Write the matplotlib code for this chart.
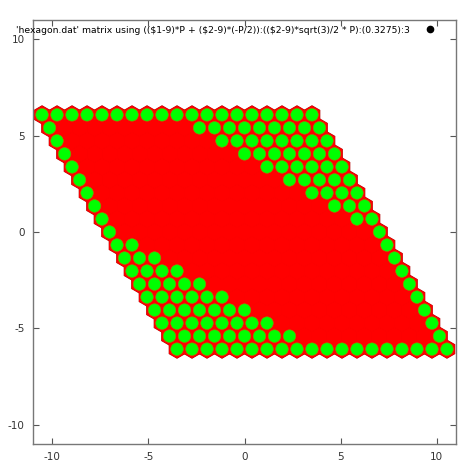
import numpy as np
import matplotlib
matplotlib.use("Agg")
import matplotlib.pyplot as plt
from matplotlib.patches import RegularPolygon, Circle
from matplotlib.lines import Line2D

# hexagon.dat : 19x19 matrix, row 0 first (bottom), 1 = green dot, 0 = red only
rows = [
    "1111111111111111111",
    "1111111110000000001",
    "1111111100000000001",
    "1111111000000000001",
    "1111110000000000001",
    "1111100000000000001",
    "1111000000000000001",
    "1110000000000000001",
    "1100000000000000001",
    "1000000000000000001",
    "1000000000000000011",
    "1000000000000000111",
    "1000000000000001111",
    "1000000000000011111",
    "1000000000000111111",
    "1000000000001111111",
    "1000000000011111111",
    "1000000000111111111",
    "1111111111111111111",
]
P = 0.78
radius = 0.3275
ticks = [-10, -5, 0, 5, 10]
label = "'hexagon.dat' matrix using ((\\$1-9)*P + (\\$2-9)*(-P/2)):((\\$2-9)*sqrt(3)/2 * P):(0.3275):3"

plt.rcParams['axes.unicode_minus'] = False

fig = plt.figure(figsize=(4.74, 4.74), dpi=100)
ax = fig.add_axes([33/474, 30/474, 423/474, 424/474])

hex_r = P / np.sqrt(3)
xs, ys, vals = [], [], []
for j, row in enumerate(rows):
    for i, ch in enumerate(row):
        xs.append((i - 9) * P + (j - 9) * (-P / 2))
        ys.append((j - 9) * np.sqrt(3) / 2 * P)
        vals.append(int(ch))

# outline pass then fill pass, so only the outer border shows
for x, y in zip(xs, ys):
    ax.add_patch(RegularPolygon((x, y), 6, radius=hex_r, facecolor='#ff0000',
                                edgecolor='#b00000', lw=1.2, zorder=1))
for x, y in zip(xs, ys):
    ax.add_patch(RegularPolygon((x, y), 6, radius=hex_r, facecolor='#ff0000',
                                edgecolor='#ff0000', lw=0.6, zorder=2))
for x, y, v in zip(xs, ys, vals):
    if v:
        ax.add_patch(Circle((x, y), radius, facecolor='#00ff00',
                            edgecolor='#909000', lw=0.4, zorder=3))

ax.set_xlim(-11, 11)
ax.set_ylim(-11, 11)
ax.set_xticks(ticks)
ax.set_yticks(ticks)
ax.tick_params(direction='in', length=4, top=True, right=True, labelsize=7.5,
               labelcolor='#333333', color='#555555', pad=6)
for s in ax.spines.values():
    s.set_color('#777777')
    s.set_linewidth(1)

h = Line2D([], [], ls='none', marker='o', color='black', markersize=4.5)
ax.legend([h], [label], loc='center right', bbox_to_anchor=(0.95, 0.976),
          markerfirst=False, frameon=False, fontsize=6.7, handlelength=1.0,
          handletextpad=1.7, borderpad=0, borderaxespad=0)

fig.savefig("out.png", dpi=100)
